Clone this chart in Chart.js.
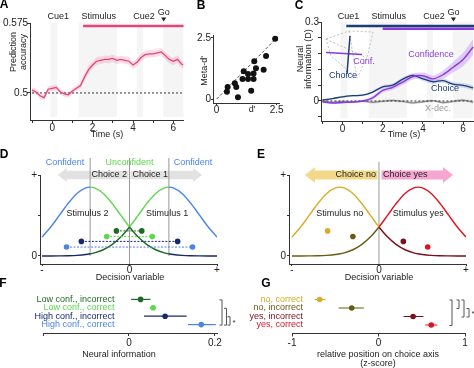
<!DOCTYPE html>
<html>
<head>
<meta charset="utf-8">
<script src="https://cdn.jsdelivr.net/npm/chart.js@4.4.1/dist/chart.umd.min.js"></script>
<style>
html, body { margin: 0; padding: 0; background: #fff; }
#fig { position: relative; width: 474px; height: 368px; overflow: hidden; }
#fig canvas { position: absolute; left: 0; top: 0; }
</style>
</head>
<body>
<div id="fig"></div>
<script>
// ---------- data ----------
// A: prediction accuracy over time
const timeA = [-1.0,-0.8,-0.6,-0.4,-0.2,0,0.2,0.4,0.6,0.8,1.0,1.2,1.4,1.6,1.8,2.0,2.2,2.4,2.6,2.8,3.0,3.2,3.4,3.6,3.8,4.0,4.2,4.4,4.6,4.8,5.0,5.2,5.4,5.6,5.8,6.0,6.2,6.4,6.5];
const accA = [0.503,0.501,0.497,0.495,0.504,0.505,0.506,0.501,0.499,0.498,0.502,0.505,0.508,0.517,0.525,0.530,0.534,0.535,0.536,0.536,0.537,0.535,0.536,0.535,0.534,0.530,0.533,0.538,0.541,0.542,0.542,0.543,0.544,0.540,0.536,0.534,0.536,0.531,0.530];
const semA = [0.003,0.003,0.003,0.003,0.003,0.003,0.003,0.003,0.003,0.003,0.003,0.003,0.003,0.004,0.004,0.004,0.004,0.004,0.004,0.004,0.004,0.004,0.004,0.004,0.004,0.004,0.004,0.004,0.004,0.004,0.004,0.004,0.004,0.004,0.004,0.004,0.004,0.004,0.004];
const chanceA = 0.5;
const barStartA = 1.53;

// B: meta-d' vs d'
const dPrime = [0.43,0.46,0.76,0.82,0.89,1.08,1.13,1.31,1.31,1.54,1.54,1.44,1.57,1.64,1.96,2.06,2.44];
const metaD  = [0.30,0.49,0.65,0.49,0.07,0.82,1.14,0.82,1.03,1.05,0.82,0.34,1.55,1.26,1.20,1.76,2.47];
const unity = [0, 2.55];

// C: neural information
const timeC = [-1,-0.5,0,0.5,1,1.5,2,2.5,3,3.5,4,4.5,5,5.5,6,6.5];
const confC = [-0.003,-0.008,-0.006,-0.004,0.0,0.012,0.040,0.052,0.072,0.093,0.096,0.084,0.100,0.128,0.158,0.205];
const confSem = [0.004,0.004,0.004,0.004,0.004,0.006,0.008,0.009,0.010,0.011,0.012,0.013,0.016,0.020,0.025,0.030];
const choiceC = [0.004,0.009,0.016,0.020,0.022,0.034,0.054,0.060,0.083,0.097,0.084,0.073,0.077,0.064,0.059,0.050];
const choiceSem = [0.003,0.003,0.004,0.004,0.004,0.005,0.006,0.006,0.007,0.008,0.008,0.008,0.008,0.008,0.009,0.010];
const xdecC = [0.000,-0.005,-0.002,-0.004,-0.001,-0.005,-0.001,0.002,-0.002,-0.007,-0.003,0.001,-0.006,-0.002,0.003,-0.005];
const xdecSem = [0.005,0.005,0.005,0.005,0.005,0.005,0.005,0.005,0.005,0.005,0.005,0.005,0.005,0.005,0.005,0.005];
const barStartC = [0.19, 2.0];

// task epochs (s)
const epochs = [[-0.1,0.25],[1.3,3.2],[4.2,4.5],[5.5,6.5]];
const epochNames = ['Cue1','Stimulus','Cue2','Go'];
const epochLabelT = [0.3, 2.3, 4.55, 5.52];

// D/E: schematic distributions over the decision variable
const dv = [-1,-0.9,-0.8,-0.7,-0.6,-0.5,-0.45,-0.4,-0.3,-0.2,-0.1,0,0.1,0.2,0.3,0.4,0.45,0.5,0.6,0.7,0.8,0.9,1];
const distLeft  = [0.233,0.358,0.504,0.651,0.772,0.841,0.85,0.841,0.772,0.651,0.504,0.358,0.233,0.140,0.077,0.039,0.027,0.018,0.008,0.003,0.001,0,0];
const distRight = [0,0,0.001,0.003,0.008,0.018,0.027,0.039,0.077,0.140,0.233,0.358,0.504,0.651,0.772,0.841,0.85,0.841,0.772,0.651,0.504,0.358,0.233];
const dMeans = [-0.45, 0.45];
const dDotX = [[-0.15,0.14],[-0.26,0.26],[-0.55,0.55],[-0.72,0.72]];
const dDotY = [0.31,0.24,0.18,0.11];
const eDotX = [-0.59,-0.30,0.28,0.56];
const eDotY = [0.31,0.24,0.18,0.11];

// F: neural information by confidence / accuracy
const fRows = ['Low conf., incorrect','Low conf., correct','High conf., incorrect','High conf., correct'];
const fMean = [0.027,0.056,0.084,0.168];
const fLo = [0.005,0.049,0.035,0.137];
const fHi = [0.050,0.063,0.134,0.202];

// G: position on choice axis
const gRows = ['no, correct','no, incorrect','yes, incorrect','yes, correct'];
const gMean = [-0.68,-0.31,0.40,0.61];
const gLo = [-0.74,-0.46,0.29,0.54];
const gHi = [-0.61,-0.17,0.52,0.68];

// ---------- style ----------
const FONT = '"Liberation Sans", Arial, Helvetica, sans-serif';
const INK = '#222';
const PINK = '#e5457b', PURPLE = '#8a3be0', NAVY = '#1d3c78', GREY = '#8c8c8c';
const BLUE = '#4a84ea', LGREEN = '#5bd94c', DGREEN = '#1f6b24', DNAVY = '#18296b';
const GOLD = '#d8ac24', OLIVE = '#6b5a14', DRED = '#7a0f1e', RED = '#de1220';
const fCols = [DGREEN, LGREEN, DNAVY, BLUE];
const gCols = [GOLD, OLIVE, DRED, RED];

Chart.defaults.font.family = FONT;
Chart.defaults.font.size = 10;
Chart.defaults.color = INK;

const fig = document.getElementById('fig');
const xy = (xs, ys) => xs.map((x, i) => ({ x, y: ys[i] }));

function addChart(area, yW, xH, cfg) {
  const c = document.createElement('canvas');
  c.width = 474; c.height = 368;
  fig.appendChild(c);
  cfg.options = cfg.options || {};
  Object.assign(cfg.options, {
    responsive: false, animation: false, devicePixelRatio: 1,
    layout: { autoPadding: false, padding: { left: area[0] - yW, top: area[1], right: 474 - area[2], bottom: 368 - area[3] - xH } }
  });
  cfg.options.plugins = { legend: { display: false }, tooltip: { enabled: false } };
  return new Chart(c, cfg);
}

function axis(min, max, vals, labels, size, isX, tl, pad) {
  return {
    type: 'linear', min, max,
    afterBuildTicks: s => { s.ticks = vals.map(v => ({ value: v })); },
    afterFit: s => { if (isX) s.height = size; else s.width = size; },
    grid: { drawOnChartArea: false, drawTicks: true, tickLength: tl, color: '#333', lineWidth: 1 },
    border: { display: true, color: '#333', width: 1 },
    ticks: { callback: (v, i) => labels[i], padding: pad, autoSkip: false, maxRotation: 0, color: INK, font: { size: 10 } }
  };
}

function txt(ctx, s, x, y, color, size, align, bold, rot) {
  ctx.save();
  ctx.font = (bold ? 'bold ' : '') + size + 'px ' + FONT;
  ctx.fillStyle = color;
  ctx.textAlign = align || 'center';
  ctx.textBaseline = 'middle';
  if (rot) { ctx.translate(x, y); ctx.rotate(-Math.PI / 2); ctx.fillText(s, 0, 0); }
  else ctx.fillText(s, x, y);
  ctx.restore();
}

function band(xs, ys, err, color) {
  return [
    { data: xy(xs, ys.map((v, i) => v - err[i])), borderColor: 'transparent', borderWidth: 0, pointRadius: 0, fill: false, tension: 0.3 },
    { data: xy(xs, ys.map((v, i) => v + err[i])), borderColor: 'transparent', borderWidth: 0, pointRadius: 0, fill: '-1', backgroundColor: color, tension: 0.3 }
  ];
}

function arrow(ctx, x0, x1, y, bh, hh, hl, color) {
  const d = Math.sign(x1 - x0), xb = x1 - d * hl;
  ctx.save();
  ctx.beginPath();
  ctx.moveTo(x0, y - bh); ctx.lineTo(xb, y - bh); ctx.lineTo(xb, y - hh); ctx.lineTo(x1, y);
  ctx.lineTo(xb, y + hh); ctx.lineTo(xb, y + bh); ctx.lineTo(x0, y + bh); ctx.closePath();
  ctx.fillStyle = color; ctx.fill();
  ctx.restore();
}

function vline(ctx, x, y0, y1, color, w, dash) {
  ctx.save(); ctx.strokeStyle = color; ctx.lineWidth = w || 1;
  if (dash) ctx.setLineDash(dash);
  ctx.beginPath(); ctx.moveTo(x, y0); ctx.lineTo(x, y1); ctx.stroke(); ctx.restore();
}

function hline(ctx, x0, x1, y, color, w) {
  ctx.save(); ctx.strokeStyle = color; ctx.lineWidth = w || 1;
  ctx.beginPath(); ctx.moveTo(x0, y); ctx.lineTo(x1, y); ctx.stroke(); ctx.restore();
}

// time-course decorations (epoch columns, labels, analysis bars)
function epochPlugin(bars) {
  return {
    id: 'epochs',
    beforeDatasetsDraw(chart) {
      const { ctx, chartArea: a, scales: { x } } = chart;
      ctx.save(); ctx.fillStyle = '#f5f5f5';
      epochs.forEach(([s, e]) => {
        const x0 = x.getPixelForValue(s), x1 = Math.min(x.getPixelForValue(e), a.right);
        ctx.fillRect(x0, a.top, x1 - x0, a.bottom - a.top - 3);
      });
      ctx.restore();
    },
    afterDraw(chart) {
      const { ctx, chartArea: a, scales: { x } } = chart;
      epochNames.forEach((n, i) => {
        const px = x.getPixelForValue(epochLabelT[i]);
        if (n === 'Go') {
          txt(ctx, n, px, 12.5, INK, 9);
          ctx.save(); ctx.fillStyle = INK; ctx.beginPath();
          ctx.moveTo(px - 2.5, 17.5); ctx.lineTo(px + 2.5, 17.5); ctx.lineTo(px, 21.5); ctx.closePath(); ctx.fill(); ctx.restore();
        } else txt(ctx, n, px, 16.5, INK, 9);
      });
      bars.forEach(b => hline(ctx, x.getPixelForValue(b.from), a.right, b.y, b.color, 2.5));
    }
  };
}

// ---------- A ----------
addChart([30, 23, 183.5, 120], 30, 20, {
  type: 'line',
  data: { datasets: [
    { data: xy(timeA, accA), borderColor: PINK, borderWidth: 1.3, pointRadius: 0 },
    { data: [{ x: -1, y: chanceA }, { x: 6.5, y: chanceA }], borderColor: '#333', borderWidth: 1, borderDash: [2, 2], pointRadius: 0 },
    ...band(timeA, accA, semA, 'rgba(236,120,160,0.25)')
  ] },
  options: {
    scales: {
      x: axis(-1.1, 6.5, [-1,0,1,2,3,4,5,6], ['','0','','2','','4','','6'], 20, true, 3, -1),
      y: axis(0.471, 0.575, [0.5, 0.575], ['0.5', '0.575'], 30, false, 3, -1)
    }
  },
  plugins: [epochPlugin([{ from: barStartA, y: 26, color: PINK }]), {
    id: 'textA',
    afterDraw(chart) {
      const ctx = chart.ctx;
      txt(ctx, 'A', 4, 5, '#000', 12, 'center', true);
      txt(ctx, 'Prediction', 14, 52, INK, 9, 'center', false, true);
      txt(ctx, 'accuracy', 24, 52, INK, 9, 'center', false, true);
      txt(ctx, 'Time (s)', 107, 135, INK, 9);
    }
  }]
});

// ---------- B ----------
addChart([213, 35, 279, 103], 20, 16, {
  type: 'line',
  data: { datasets: [
    { data: xy(dPrime, metaD), showLine: false, pointRadius: 3, pointBackgroundColor: '#111', pointBorderWidth: 0 },
    { data: xy(unity, unity), borderColor: '#555', borderWidth: 1, borderDash: [3, 2], pointRadius: 0 }
  ] },
  options: {
    scales: {
      x: axis(-0.15, 2.6, [0, 2.5], ['0', '2.5'], 16, true, 2, -1),
      y: axis(-0.16, 2.62, [0, 2.5], ['0', '2.5'], 20, false, 2, 0)
    }
  },
  plugins: [{
    id: 'textB',
    afterDraw(chart) {
      const ctx = chart.ctx;
      txt(ctx, 'B', 201, 6, '#000', 12, 'center', true);
      txt(ctx, "Meta-d'", 205, 71, INK, 9, 'center', false, true);
      txt(ctx, "d'", 252, 110, INK, 9);
    }
  }]
});

// ---------- C ----------
addChart([321, 22, 474, 121], 30, 20, {
  type: 'line',
  data: { datasets: [
    { data: xy(timeC, confC), borderColor: PURPLE, borderWidth: 1.4, pointRadius: 0, tension: 0.3 },
    { data: xy(timeC, choiceC), borderColor: NAVY, borderWidth: 1.3, pointRadius: 0, tension: 0.3 },
    { data: [{ x: -1, y: 0 }, { x: 6.5, y: 0 }], borderColor: '#333', borderWidth: 1, borderDash: [2, 2], pointRadius: 0 },
    { data: xy(timeC, xdecC), borderColor: GREY, borderWidth: 1.2, pointRadius: 0, tension: 0.3 },
    ...band(timeC, confC, confSem, 'rgba(195,150,245,0.45)'),
    ...band(timeC, choiceC, choiceSem, 'rgba(140,165,205,0.35)'),
    ...band(timeC, xdecC, xdecSem, 'rgba(175,175,175,0.4)')
  ] },
  options: {
    scales: {
      x: axis(-1.07, 6.542, [-1,0,1,2,3,4,5,6], ['','0','','2','','4','','6'], 20, true, 3, -1),
      y: axis(-0.076, 0.3, [-0.06,0,0.06,0.12,0.18,0.24,0.3], ['','0','','','','','0.3'], 30, false, 3, -1)
    }
  },
  plugins: [epochPlugin([{ from: barStartC[0], y: 26, color: NAVY }, { from: barStartC[1], y: 28.8, color: PURPLE }]), {
    id: 'textC',
    afterDraw(chart) {
      const ctx = chart.ctx;
      txt(ctx, 'C', 299, 6, '#000', 12, 'center', true);
      txt(ctx, 'Neural', 301, 59, INK, 9, 'center', false, true);
      txt(ctx, 'information (D)', 309, 59, INK, 9, 'center', false, true);
      txt(ctx, 'Time (s)', 404, 135, INK, 9);
      txt(ctx, 'Confidence', 431, 55, PURPLE, 9);
      txt(ctx, 'Choice', 445, 89, NAVY, 9);
      txt(ctx, 'X-dec.', 438, 109, '#999', 9);
      // inset: choice / confidence axes in state space
      ctx.save();
      ctx.strokeStyle = '#b0b0b0'; ctx.lineWidth = 0.8; ctx.setLineDash([2, 2]);
      ctx.beginPath();
      ctx.moveTo(326, 39); ctx.lineTo(349, 31); ctx.lineTo(373, 32); ctx.lineTo(367, 58);
      ctx.lineTo(357, 78); ctx.lineTo(331, 56); ctx.closePath(); ctx.stroke();
      ctx.beginPath(); ctx.moveTo(326, 39); ctx.lineTo(367, 58); ctx.stroke();
      ctx.beginPath(); ctx.moveTo(349, 31); ctx.lineTo(357, 78); ctx.stroke();
      ctx.restore();
      ctx.save(); ctx.lineWidth = 1.5;
      ctx.strokeStyle = PURPLE; ctx.beginPath(); ctx.moveTo(326, 52.5); ctx.lineTo(362, 54.5); ctx.stroke();
      ctx.strokeStyle = NAVY; ctx.beginPath(); ctx.moveTo(350, 36); ctx.lineTo(347, 74); ctx.stroke();
      ctx.restore();
      txt(ctx, 'Conf.', 364, 62, PURPLE, 9);
      txt(ctx, 'Choice', 343, 76, NAVY, 9);
    }
  }]
});

// ---------- D / E shared ----------
function segColor(cuts, cols) {
  return c => {
    const m = (c.p0.parsed.x + c.p1.parsed.x) / 2;
    for (let i = 0; i < cuts.length; i++) if (m < cuts[i]) return cols[i];
    return cols[cols.length - 1];
  };
}

const dDatasets = [];
dDotX.forEach((pair, i) => dDatasets.push({
  data: pair.map(v => ({ x: v, y: dDotY[i] })), borderColor: fCols[i], borderWidth: 1, borderDash: [2, 1.5],
  pointRadius: 2.8, pointBackgroundColor: fCols[i], pointBorderWidth: 0
}));
dDatasets.push({ data: xy(dv, distLeft), borderColor: BLUE, borderWidth: 1.4, pointRadius: 0, cubicInterpolationMode: 'monotone',
  segment: { borderColor: segColor([dMeans[0], 0, dMeans[1]], [BLUE, LGREEN, DGREEN, DNAVY]) } });
dDatasets.push({ data: xy(dv, distRight), borderColor: BLUE, borderWidth: 1.4, pointRadius: 0, cubicInterpolationMode: 'monotone',
  segment: { borderColor: segColor([dMeans[0], 0, dMeans[1]], [DNAVY, DGREEN, LGREEN, BLUE]) } });

addChart([40, 175, 217, 264], 14, 16, {
  type: 'line',
  data: { datasets: dDatasets },
  options: {
    scales: {
      x: axis(-1.023, 1, [-1, 0, 1], ['-', '0', '+'], 16, true, 2, -2),
      y: axis(-0.099, 1, [0, 0.5, 1], ['0', '', '+'], 14, false, 2, 1)
    }
  },
  plugins: [{
    id: 'bgD',
    beforeDatasetsDraw(chart) {
      const { ctx, chartArea: a, scales: { x, y } } = chart;
      const x0 = x.getPixelForValue(0);
      arrow(ctx, x0 - 1, x.getPixelForValue(-0.82), a.top, 4.3, 7, 9, '#e2e2e2');
      arrow(ctx, x0 + 1, x.getPixelForValue(0.83), a.top, 4.3, 7, 9, '#e2e2e2');
      dMeans.forEach(m => vline(ctx, x.getPixelForValue(m), a.top - 17, y.getPixelForValue(0), '#999', 1));
      vline(ctx, x0, a.top - 17, a.bottom, '#999', 1);
    },
    afterDraw(chart) {
      const { ctx, chartArea: a, scales: { x, y } } = chart;
      txt(ctx, 'D', 4, 155, '#000', 12, 'center', true);
      txt(ctx, 'Confident', 65, a.top - 12, BLUE, 9);
      txt(ctx, 'Unconfident', x.getPixelForValue(0), a.top - 12, LGREEN, 9);
      txt(ctx, 'Confident', 193, a.top - 12, BLUE, 9);
      txt(ctx, 'Choice 2', x.getPixelForValue(0) - 2.5, a.top, INK, 9, 'right');
      txt(ctx, 'Choice 1', x.getPixelForValue(0) + 3, a.top, INK, 9, 'left');
      txt(ctx, 'Stimulus 2', x.getPixelForValue(-0.48), y.getPixelForValue(0.52), INK, 9);
      txt(ctx, 'Stimulus 1', x.getPixelForValue(0.43), y.getPixelForValue(0.52), INK, 9);
      txt(ctx, 'Decision variable', 130, 278, INK, 9);
    }
  }]
});

// ---------- E ----------
const eDatasets = [];
eDotX.forEach((v, i) => eDatasets.push({
  data: [{ x: v, y: eDotY[i] }], showLine: false, pointRadius: 2.8, pointBackgroundColor: gCols[i], pointBorderWidth: 0
}));
eDatasets.push({ data: xy(dv, distLeft), borderColor: GOLD, borderWidth: 1.4, pointRadius: 0, cubicInterpolationMode: 'monotone',
  segment: { borderColor: segColor([0], [GOLD, DRED]) } });
eDatasets.push({ data: xy(dv, distRight), borderColor: RED, borderWidth: 1.4, pointRadius: 0, cubicInterpolationMode: 'monotone',
  segment: { borderColor: segColor([0], [OLIVE, RED]) } });

addChart([289, 175, 466, 264], 14, 16, {
  type: 'line',
  data: { datasets: eDatasets },
  options: {
    scales: {
      x: axis(-1.034, 1, [-1, 0, 1], ['-', '0', '+'], 16, true, 2, -2),
      y: axis(-0.099, 1, [0, 0.5, 1], ['0', '', '+'], 14, false, 2, 1)
    }
  },
  plugins: [{
    id: 'bgE',
    beforeDatasetsDraw(chart) {
      const { ctx, chartArea: a, scales: { x } } = chart;
      const x0 = x.getPixelForValue(0);
      arrow(ctx, x0 - 1.5, x.getPixelForValue(-0.85), a.top, 4.5, 8, 10, '#f2d98a');
      arrow(ctx, x0 + 2.5, x.getPixelForValue(0.85), a.top, 4.5, 8, 10, '#f6a6d0');
      vline(ctx, x0, a.top - 13, a.bottom, '#999', 1);
    },
    afterDraw(chart) {
      const { ctx, chartArea: a, scales: { x, y } } = chart;
      const x0 = x.getPixelForValue(0);
      txt(ctx, 'E', 261, 155, '#000', 12, 'center', true);
      txt(ctx, 'Choice no', x0 - 3, a.top, INK, 9, 'right');
      txt(ctx, 'Choice yes', x0 + 4, a.top, INK, 9, 'left');
      txt(ctx, 'Stimulus no', x.getPixelForValue(-0.45), y.getPixelForValue(0.52), INK, 9);
      txt(ctx, 'Stimulus yes', x.getPixelForValue(0.45), y.getPixelForValue(0.52), INK, 9);
      txt(ctx, 'Decision variable', x0, 278, INK, 9);
    }
  }]
});

// ---------- F / G shared ----------
function rowDatasets(mean, lo, hi, cols) {
  const ds = [{ data: mean.map((m, i) => ({ x: m, y: i + 1 })), showLine: false, pointRadius: 2.8,
    pointBackgroundColor: cols, pointBorderWidth: 0 }];
  lo.forEach((l, i) => ds.push({ data: [{ x: l, y: i + 1 }, { x: hi[i], y: i + 1 }], borderColor: cols[i], borderWidth: 1.2, pointRadius: 0 }));
  return ds;
}

function bracket(ctx, x, y0, y1) {
  ctx.save(); ctx.strokeStyle = '#555'; ctx.lineWidth = 1;
  ctx.beginPath(); ctx.moveTo(x - 2.5, y0); ctx.lineTo(x, y0); ctx.lineTo(x, y1); ctx.lineTo(x - 2.5, y1); ctx.stroke();
  ctx.restore();
}

function rowPlugin(id, letter, lx, ly, rows, cols, labelX, sig, sigX, starX, titles) {
  return {
    id,
    afterDraw(chart) {
      const { ctx, scales: { x, y } } = chart;
      txt(ctx, letter, lx, ly, '#000', 12, 'center', true);
      rows.forEach((r, i) => txt(ctx, r, labelX, y.getPixelForValue(i + 1), cols[i], 9, 'right'));
      sig.forEach((s, i) => bracket(ctx, sigX[i], y.getPixelForValue(s[0]) + 0.5, y.getPixelForValue(s[1]) + 0.5));
      txt(ctx, '*', starX[0], starX[1], '#333', 8);
      titles.forEach(t => txt(ctx, t[0], t[1], t[2], INK, 9));
    }
  };
}

// ---------- F ----------
addChart([43, 291, 217, 333], 0, 14, {
  type: 'line',
  data: { datasets: rowDatasets(fMean, fLo, fHi, fCols) },
  options: {
    scales: {
      x: axis(-0.2, 0.2047, [-0.2, 0, 0.2], ['', '0', '0.2'], 14, true, 3, 1),
      y: { display: false, min: 0, max: 5, reverse: true }
    }
  },
  plugins: [rowPlugin('textF', 'F', 3, 284, fRows, fCols, 114.5,
    [[1, 4], [2, 4], [3, 4]], [222, 226.5, 230], [234, 323], [['Neural information', 119, 355]])]
});

// ---------- G ----------
addChart([292, 291, 465, 333.5], 0, 14, {
  type: 'line',
  data: { datasets: rowDatasets(gMean, gLo, gHi, gCols) },
  options: {
    scales: {
      x: axis(-1, 1, [-1, 0, 1], ['-1', '0', '1'], 14, true, 3, 1),
      y: { display: false, min: 0, max: 5, reverse: true }
    }
  },
  plugins: [rowPlugin('textG', 'G', 266, 284, gRows, gCols, 303,
    [[1, 4], [1, 2], [1, 3], [2, 3]], [452, 459, 464, 469], [473, 314],
    [['relative position on choice axis', 378, 355], ['(z-score)', 378, 364]])]
});
</script>
</body>
</html>
